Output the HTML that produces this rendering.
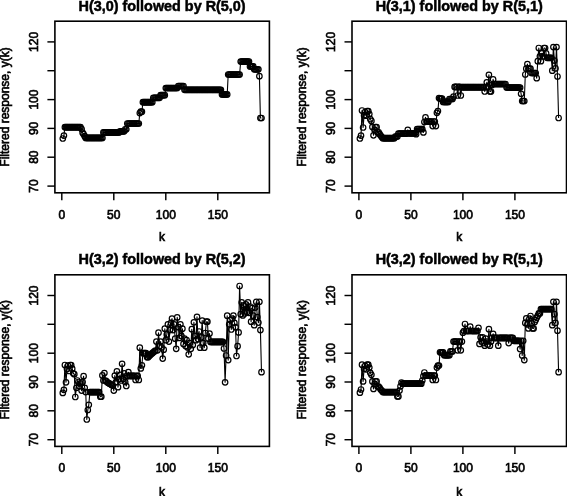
<!DOCTYPE html>
<html><head><meta charset="utf-8"><title>Filtered responses</title>
<style>html,body{margin:0;padding:0;background:#fff}svg{display:block}</style></head>
<body>
<svg width="567" height="496" viewBox="0 0 567 496">
<style>text{font-family:"Liberation Sans",sans-serif;fill:#000;stroke:#000;stroke-width:0.65px}.t{font-size:14.4px;font-weight:bold;stroke-width:0.5px}.a{font-size:12px}.l{font-size:12px}</style>
<rect width="567" height="496" fill="#fff"/>
<g transform="translate(0,0)">
<polyline fill="none" stroke="#000" stroke-width="1.1" stroke-linejoin="round" points="62.8,138.5 63.9,135.6 64.9,127.2 66.0,127.2 67.0,127.2 68.0,127.2 69.1,127.2 70.1,127.2 71.2,127.2 72.2,127.2 73.2,127.2 74.3,127.2 75.3,127.2 76.4,127.2 77.4,127.2 78.4,127.2 79.5,127.2 80.5,127.2 81.6,129.0 82.6,132.7 83.6,134.2 84.7,136.2 85.7,137.9 86.8,137.9 87.8,137.9 88.8,137.9 89.9,137.9 90.9,137.9 92.0,137.9 93.0,137.9 94.0,137.9 95.1,137.9 96.1,137.9 97.2,137.9 98.2,137.9 99.2,137.9 100.3,137.9 101.3,137.9 102.4,137.9 103.4,132.4 104.4,132.4 105.5,132.4 106.5,132.4 107.6,132.4 108.6,132.4 109.6,132.4 110.7,132.4 111.7,132.4 112.8,132.4 113.8,132.4 114.8,132.4 115.9,132.4 116.9,132.4 118.0,132.4 119.0,132.4 120.0,131.3 121.1,131.3 122.1,131.3 123.2,131.3 124.2,131.3 125.2,129.3 126.3,129.3 127.3,123.5 128.4,123.5 129.4,123.5 130.4,123.5 131.5,123.5 132.5,123.5 133.6,123.5 134.6,123.5 135.6,123.5 136.7,123.5 137.7,123.5 138.8,123.5 139.8,113.1 140.8,111.7 141.9,111.7 142.9,102.2 144.0,102.2 145.0,102.2 146.0,102.2 147.1,102.2 148.1,102.2 149.2,102.2 150.2,102.2 151.2,102.2 152.3,102.2 153.3,97.8 154.4,97.8 155.4,97.8 156.4,97.8 157.5,97.8 158.5,97.8 159.6,97.8 160.6,95.2 161.6,95.2 162.7,95.2 163.7,95.2 164.8,95.2 165.8,88.0 166.8,88.0 167.9,88.0 168.9,88.0 170.0,88.0 171.0,88.0 172.0,88.0 173.1,88.0 174.1,88.0 175.2,88.0 176.2,88.0 177.2,88.0 178.3,86.0 179.3,86.0 180.4,86.0 181.4,86.0 182.4,86.0 183.5,86.0 184.5,89.8 185.6,89.8 186.6,89.8 187.6,89.8 188.7,89.8 189.7,89.8 190.8,89.8 191.8,89.8 192.8,89.8 193.9,89.8 194.9,89.8 196.0,89.8 197.0,89.8 198.0,89.8 199.1,89.8 200.1,89.8 201.2,89.8 202.2,89.8 203.2,89.8 204.3,89.8 205.3,89.8 206.4,89.8 207.4,89.8 208.4,89.8 209.5,89.8 210.5,89.8 211.6,89.8 212.6,89.8 213.6,89.8 214.7,89.8 215.7,89.8 216.8,89.8 217.8,89.8 218.8,89.8 219.9,89.8 220.9,89.8 222.0,94.4 223.0,94.4 224.0,94.4 225.1,94.4 226.1,94.4 227.2,94.4 228.2,74.5 229.2,74.5 230.3,74.5 231.3,74.5 232.4,74.5 233.4,74.5 234.4,74.5 235.5,74.5 236.5,74.5 237.6,74.5 238.6,74.5 239.6,74.5 240.7,61.5 241.7,61.5 242.8,61.5 243.8,61.5 244.8,61.5 245.9,61.5 246.9,61.5 248.0,61.5 249.0,61.5 250.0,66.4 251.1,66.4 252.1,66.4 253.2,66.4 254.2,69.3 255.2,69.3 256.3,69.3 257.3,69.3 258.4,69.3 259.4,76.2 260.4,118.0 261.5,118.0"/>
<g fill="none" stroke="#000" stroke-width="1.2"><circle cx="62.8" cy="138.5" r="2.75"/><circle cx="63.9" cy="135.6" r="2.75"/><circle cx="64.9" cy="127.2" r="2.75"/><circle cx="66.0" cy="127.2" r="2.75"/><circle cx="67.0" cy="127.2" r="2.75"/><circle cx="68.0" cy="127.2" r="2.75"/><circle cx="69.1" cy="127.2" r="2.75"/><circle cx="70.1" cy="127.2" r="2.75"/><circle cx="71.2" cy="127.2" r="2.75"/><circle cx="72.2" cy="127.2" r="2.75"/><circle cx="73.2" cy="127.2" r="2.75"/><circle cx="74.3" cy="127.2" r="2.75"/><circle cx="75.3" cy="127.2" r="2.75"/><circle cx="76.4" cy="127.2" r="2.75"/><circle cx="77.4" cy="127.2" r="2.75"/><circle cx="78.4" cy="127.2" r="2.75"/><circle cx="79.5" cy="127.2" r="2.75"/><circle cx="80.5" cy="127.2" r="2.75"/><circle cx="81.6" cy="129.0" r="2.75"/><circle cx="82.6" cy="132.7" r="2.75"/><circle cx="83.6" cy="134.2" r="2.75"/><circle cx="84.7" cy="136.2" r="2.75"/><circle cx="85.7" cy="137.9" r="2.75"/><circle cx="86.8" cy="137.9" r="2.75"/><circle cx="87.8" cy="137.9" r="2.75"/><circle cx="88.8" cy="137.9" r="2.75"/><circle cx="89.9" cy="137.9" r="2.75"/><circle cx="90.9" cy="137.9" r="2.75"/><circle cx="92.0" cy="137.9" r="2.75"/><circle cx="93.0" cy="137.9" r="2.75"/><circle cx="94.0" cy="137.9" r="2.75"/><circle cx="95.1" cy="137.9" r="2.75"/><circle cx="96.1" cy="137.9" r="2.75"/><circle cx="97.2" cy="137.9" r="2.75"/><circle cx="98.2" cy="137.9" r="2.75"/><circle cx="99.2" cy="137.9" r="2.75"/><circle cx="100.3" cy="137.9" r="2.75"/><circle cx="101.3" cy="137.9" r="2.75"/><circle cx="102.4" cy="137.9" r="2.75"/><circle cx="103.4" cy="132.4" r="2.75"/><circle cx="104.4" cy="132.4" r="2.75"/><circle cx="105.5" cy="132.4" r="2.75"/><circle cx="106.5" cy="132.4" r="2.75"/><circle cx="107.6" cy="132.4" r="2.75"/><circle cx="108.6" cy="132.4" r="2.75"/><circle cx="109.6" cy="132.4" r="2.75"/><circle cx="110.7" cy="132.4" r="2.75"/><circle cx="111.7" cy="132.4" r="2.75"/><circle cx="112.8" cy="132.4" r="2.75"/><circle cx="113.8" cy="132.4" r="2.75"/><circle cx="114.8" cy="132.4" r="2.75"/><circle cx="115.9" cy="132.4" r="2.75"/><circle cx="116.9" cy="132.4" r="2.75"/><circle cx="118.0" cy="132.4" r="2.75"/><circle cx="119.0" cy="132.4" r="2.75"/><circle cx="120.0" cy="131.3" r="2.75"/><circle cx="121.1" cy="131.3" r="2.75"/><circle cx="122.1" cy="131.3" r="2.75"/><circle cx="123.2" cy="131.3" r="2.75"/><circle cx="124.2" cy="131.3" r="2.75"/><circle cx="125.2" cy="129.3" r="2.75"/><circle cx="126.3" cy="129.3" r="2.75"/><circle cx="127.3" cy="123.5" r="2.75"/><circle cx="128.4" cy="123.5" r="2.75"/><circle cx="129.4" cy="123.5" r="2.75"/><circle cx="130.4" cy="123.5" r="2.75"/><circle cx="131.5" cy="123.5" r="2.75"/><circle cx="132.5" cy="123.5" r="2.75"/><circle cx="133.6" cy="123.5" r="2.75"/><circle cx="134.6" cy="123.5" r="2.75"/><circle cx="135.6" cy="123.5" r="2.75"/><circle cx="136.7" cy="123.5" r="2.75"/><circle cx="137.7" cy="123.5" r="2.75"/><circle cx="138.8" cy="123.5" r="2.75"/><circle cx="139.8" cy="113.1" r="2.75"/><circle cx="140.8" cy="111.7" r="2.75"/><circle cx="141.9" cy="111.7" r="2.75"/><circle cx="142.9" cy="102.2" r="2.75"/><circle cx="144.0" cy="102.2" r="2.75"/><circle cx="145.0" cy="102.2" r="2.75"/><circle cx="146.0" cy="102.2" r="2.75"/><circle cx="147.1" cy="102.2" r="2.75"/><circle cx="148.1" cy="102.2" r="2.75"/><circle cx="149.2" cy="102.2" r="2.75"/><circle cx="150.2" cy="102.2" r="2.75"/><circle cx="151.2" cy="102.2" r="2.75"/><circle cx="152.3" cy="102.2" r="2.75"/><circle cx="153.3" cy="97.8" r="2.75"/><circle cx="154.4" cy="97.8" r="2.75"/><circle cx="155.4" cy="97.8" r="2.75"/><circle cx="156.4" cy="97.8" r="2.75"/><circle cx="157.5" cy="97.8" r="2.75"/><circle cx="158.5" cy="97.8" r="2.75"/><circle cx="159.6" cy="97.8" r="2.75"/><circle cx="160.6" cy="95.2" r="2.75"/><circle cx="161.6" cy="95.2" r="2.75"/><circle cx="162.7" cy="95.2" r="2.75"/><circle cx="163.7" cy="95.2" r="2.75"/><circle cx="164.8" cy="95.2" r="2.75"/><circle cx="165.8" cy="88.0" r="2.75"/><circle cx="166.8" cy="88.0" r="2.75"/><circle cx="167.9" cy="88.0" r="2.75"/><circle cx="168.9" cy="88.0" r="2.75"/><circle cx="170.0" cy="88.0" r="2.75"/><circle cx="171.0" cy="88.0" r="2.75"/><circle cx="172.0" cy="88.0" r="2.75"/><circle cx="173.1" cy="88.0" r="2.75"/><circle cx="174.1" cy="88.0" r="2.75"/><circle cx="175.2" cy="88.0" r="2.75"/><circle cx="176.2" cy="88.0" r="2.75"/><circle cx="177.2" cy="88.0" r="2.75"/><circle cx="178.3" cy="86.0" r="2.75"/><circle cx="179.3" cy="86.0" r="2.75"/><circle cx="180.4" cy="86.0" r="2.75"/><circle cx="181.4" cy="86.0" r="2.75"/><circle cx="182.4" cy="86.0" r="2.75"/><circle cx="183.5" cy="86.0" r="2.75"/><circle cx="184.5" cy="89.8" r="2.75"/><circle cx="185.6" cy="89.8" r="2.75"/><circle cx="186.6" cy="89.8" r="2.75"/><circle cx="187.6" cy="89.8" r="2.75"/><circle cx="188.7" cy="89.8" r="2.75"/><circle cx="189.7" cy="89.8" r="2.75"/><circle cx="190.8" cy="89.8" r="2.75"/><circle cx="191.8" cy="89.8" r="2.75"/><circle cx="192.8" cy="89.8" r="2.75"/><circle cx="193.9" cy="89.8" r="2.75"/><circle cx="194.9" cy="89.8" r="2.75"/><circle cx="196.0" cy="89.8" r="2.75"/><circle cx="197.0" cy="89.8" r="2.75"/><circle cx="198.0" cy="89.8" r="2.75"/><circle cx="199.1" cy="89.8" r="2.75"/><circle cx="200.1" cy="89.8" r="2.75"/><circle cx="201.2" cy="89.8" r="2.75"/><circle cx="202.2" cy="89.8" r="2.75"/><circle cx="203.2" cy="89.8" r="2.75"/><circle cx="204.3" cy="89.8" r="2.75"/><circle cx="205.3" cy="89.8" r="2.75"/><circle cx="206.4" cy="89.8" r="2.75"/><circle cx="207.4" cy="89.8" r="2.75"/><circle cx="208.4" cy="89.8" r="2.75"/><circle cx="209.5" cy="89.8" r="2.75"/><circle cx="210.5" cy="89.8" r="2.75"/><circle cx="211.6" cy="89.8" r="2.75"/><circle cx="212.6" cy="89.8" r="2.75"/><circle cx="213.6" cy="89.8" r="2.75"/><circle cx="214.7" cy="89.8" r="2.75"/><circle cx="215.7" cy="89.8" r="2.75"/><circle cx="216.8" cy="89.8" r="2.75"/><circle cx="217.8" cy="89.8" r="2.75"/><circle cx="218.8" cy="89.8" r="2.75"/><circle cx="219.9" cy="89.8" r="2.75"/><circle cx="220.9" cy="89.8" r="2.75"/><circle cx="222.0" cy="94.4" r="2.75"/><circle cx="223.0" cy="94.4" r="2.75"/><circle cx="224.0" cy="94.4" r="2.75"/><circle cx="225.1" cy="94.4" r="2.75"/><circle cx="226.1" cy="94.4" r="2.75"/><circle cx="227.2" cy="94.4" r="2.75"/><circle cx="228.2" cy="74.5" r="2.75"/><circle cx="229.2" cy="74.5" r="2.75"/><circle cx="230.3" cy="74.5" r="2.75"/><circle cx="231.3" cy="74.5" r="2.75"/><circle cx="232.4" cy="74.5" r="2.75"/><circle cx="233.4" cy="74.5" r="2.75"/><circle cx="234.4" cy="74.5" r="2.75"/><circle cx="235.5" cy="74.5" r="2.75"/><circle cx="236.5" cy="74.5" r="2.75"/><circle cx="237.6" cy="74.5" r="2.75"/><circle cx="238.6" cy="74.5" r="2.75"/><circle cx="239.6" cy="74.5" r="2.75"/><circle cx="240.7" cy="61.5" r="2.75"/><circle cx="241.7" cy="61.5" r="2.75"/><circle cx="242.8" cy="61.5" r="2.75"/><circle cx="243.8" cy="61.5" r="2.75"/><circle cx="244.8" cy="61.5" r="2.75"/><circle cx="245.9" cy="61.5" r="2.75"/><circle cx="246.9" cy="61.5" r="2.75"/><circle cx="248.0" cy="61.5" r="2.75"/><circle cx="249.0" cy="61.5" r="2.75"/><circle cx="250.0" cy="66.4" r="2.75"/><circle cx="251.1" cy="66.4" r="2.75"/><circle cx="252.1" cy="66.4" r="2.75"/><circle cx="253.2" cy="66.4" r="2.75"/><circle cx="254.2" cy="69.3" r="2.75"/><circle cx="255.2" cy="69.3" r="2.75"/><circle cx="256.3" cy="69.3" r="2.75"/><circle cx="257.3" cy="69.3" r="2.75"/><circle cx="258.4" cy="69.3" r="2.75"/><circle cx="259.4" cy="76.2" r="2.75"/><circle cx="260.4" cy="118.0" r="2.75"/><circle cx="261.5" cy="118.0" r="2.75"/></g>
<rect x="54.9" y="21.2" width="214.5" height="171.6" fill="none" stroke="#000" stroke-width="1.6"/>
<line x1="61.8" y1="192.8" x2="61.8" y2="200.3" stroke="#000" stroke-width="1.45"/>
<text class="a" x="61.8" y="218.7" text-anchor="middle">0</text>
<line x1="113.8" y1="192.8" x2="113.8" y2="200.3" stroke="#000" stroke-width="1.45"/>
<text class="a" x="113.8" y="218.7" text-anchor="middle">50</text>
<line x1="165.8" y1="192.8" x2="165.8" y2="200.3" stroke="#000" stroke-width="1.45"/>
<text class="a" x="165.8" y="218.7" text-anchor="middle">100</text>
<line x1="217.8" y1="192.8" x2="217.8" y2="200.3" stroke="#000" stroke-width="1.45"/>
<text class="a" x="217.8" y="218.7" text-anchor="middle">150</text>
<line x1="54.9" y1="186.1" x2="47.4" y2="186.1" stroke="#000" stroke-width="1.45"/>
<text class="a" transform="translate(37.5,186.1) rotate(-90)" text-anchor="middle">70</text>
<line x1="54.9" y1="157.2" x2="47.4" y2="157.2" stroke="#000" stroke-width="1.45"/>
<text class="a" transform="translate(37.5,157.2) rotate(-90)" text-anchor="middle">80</text>
<line x1="54.9" y1="128.4" x2="47.4" y2="128.4" stroke="#000" stroke-width="1.45"/>
<text class="a" transform="translate(37.5,128.4) rotate(-90)" text-anchor="middle">90</text>
<line x1="54.9" y1="99.6" x2="47.4" y2="99.6" stroke="#000" stroke-width="1.45"/>
<text class="a" transform="translate(37.5,99.6) rotate(-90)" text-anchor="middle">100</text>
<line x1="54.9" y1="70.7" x2="47.4" y2="70.7" stroke="#000" stroke-width="1.45"/>
<line x1="54.9" y1="41.9" x2="47.4" y2="41.9" stroke="#000" stroke-width="1.45"/>
<text class="a" transform="translate(37.5,41.9) rotate(-90)" text-anchor="middle">120</text>
<text class="t" x="162.1" y="10.5" text-anchor="middle">H(3,0) followed by R(5,0)</text>
<text class="l" x="162.1" y="241.0" text-anchor="middle">k</text>
<text class="l" transform="translate(8.8,107.0) rotate(-90)" text-anchor="middle">Filtered response, y(k)</text>
</g>
<g transform="translate(297.1,0)">
<polyline fill="none" stroke="#000" stroke-width="1.1" stroke-linejoin="round" points="62.8,138.5 63.9,135.6 64.9,110.5 66.0,127.5 67.0,115.4 68.0,112.2 69.1,115.7 70.1,111.1 71.2,111.1 72.2,114.0 73.2,119.2 74.3,120.9 75.3,126.9 76.4,135.3 77.4,129.8 78.4,127.2 79.5,127.2 80.5,132.4 81.6,132.4 82.6,134.2 83.6,135.6 84.7,137.0 85.7,138.2 86.8,138.2 87.8,138.2 88.8,138.2 89.9,138.2 90.9,138.2 92.0,138.2 93.0,138.2 94.0,138.2 95.1,138.2 96.1,138.2 97.2,138.2 98.2,136.5 99.2,136.5 100.3,136.5 101.3,133.6 102.4,133.6 103.4,133.6 104.4,133.6 105.5,133.6 106.5,133.6 107.6,133.6 108.6,133.6 109.6,133.6 110.7,129.8 111.7,133.3 112.8,133.3 113.8,133.3 114.8,133.3 115.9,133.3 116.9,133.3 118.0,133.3 119.0,134.2 120.0,129.0 121.1,129.0 122.1,129.0 123.2,129.0 124.2,129.0 125.2,129.0 126.3,132.4 127.3,122.0 128.4,117.4 129.4,121.5 130.4,121.5 131.5,121.5 132.5,121.5 133.6,121.5 134.6,121.5 135.6,126.1 136.7,121.5 137.7,121.5 138.8,126.1 139.8,112.8 140.8,111.1 141.9,98.1 142.9,98.7 144.0,98.7 145.0,98.7 146.0,101.9 147.1,101.9 148.1,101.9 149.2,101.9 150.2,101.9 151.2,101.9 152.3,99.0 153.3,99.0 154.4,99.0 155.4,99.0 156.4,96.7 157.5,86.9 158.5,86.9 159.6,86.9 160.6,95.5 161.6,86.9 162.7,86.9 163.7,95.5 164.8,87.2 165.8,87.2 166.8,87.2 167.9,87.2 168.9,87.2 170.0,87.2 171.0,87.2 172.0,87.2 173.1,87.2 174.1,87.2 175.2,87.2 176.2,87.2 177.2,87.2 178.3,87.2 179.3,87.2 180.4,87.2 181.4,87.2 182.4,87.2 183.5,87.2 184.5,87.2 185.6,87.2 186.6,87.2 187.6,91.5 188.7,87.2 189.7,82.3 190.8,86.6 191.8,74.8 192.8,91.5 193.9,91.5 194.9,85.1 196.0,79.4 197.0,84.0 198.0,84.0 199.1,84.0 200.1,84.0 201.2,84.0 202.2,84.0 203.2,84.0 204.3,84.0 205.3,84.0 206.4,84.0 207.4,84.0 208.4,84.0 209.5,87.5 210.5,87.5 211.6,87.5 212.6,87.5 213.6,87.5 214.7,87.5 215.7,87.5 216.8,87.5 217.8,87.5 218.8,87.5 219.9,87.5 220.9,87.5 222.0,87.5 223.0,87.5 224.0,93.8 225.1,101.0 226.1,101.0 227.2,101.0 228.2,74.5 229.2,68.7 230.3,64.1 231.3,68.7 232.4,68.7 233.4,68.7 234.4,73.0 235.5,73.0 236.5,73.0 237.6,73.0 238.6,73.0 239.6,78.2 240.7,61.2 241.7,48.0 242.8,56.3 243.8,61.2 244.8,53.4 245.9,56.3 246.9,48.0 248.0,48.0 249.0,53.4 250.0,57.8 251.1,57.8 252.1,57.8 253.2,57.8 254.2,57.8 255.2,70.7 256.3,47.1 257.3,60.6 258.4,68.4 259.4,47.1 260.4,76.5 261.5,118.0"/>
<g fill="none" stroke="#000" stroke-width="1.2"><circle cx="62.8" cy="138.5" r="2.75"/><circle cx="63.9" cy="135.6" r="2.75"/><circle cx="64.9" cy="110.5" r="2.75"/><circle cx="66.0" cy="127.5" r="2.75"/><circle cx="67.0" cy="115.4" r="2.75"/><circle cx="68.0" cy="112.2" r="2.75"/><circle cx="69.1" cy="115.7" r="2.75"/><circle cx="70.1" cy="111.1" r="2.75"/><circle cx="71.2" cy="111.1" r="2.75"/><circle cx="72.2" cy="114.0" r="2.75"/><circle cx="73.2" cy="119.2" r="2.75"/><circle cx="74.3" cy="120.9" r="2.75"/><circle cx="75.3" cy="126.9" r="2.75"/><circle cx="76.4" cy="135.3" r="2.75"/><circle cx="77.4" cy="129.8" r="2.75"/><circle cx="78.4" cy="127.2" r="2.75"/><circle cx="79.5" cy="127.2" r="2.75"/><circle cx="80.5" cy="132.4" r="2.75"/><circle cx="81.6" cy="132.4" r="2.75"/><circle cx="82.6" cy="134.2" r="2.75"/><circle cx="83.6" cy="135.6" r="2.75"/><circle cx="84.7" cy="137.0" r="2.75"/><circle cx="85.7" cy="138.2" r="2.75"/><circle cx="86.8" cy="138.2" r="2.75"/><circle cx="87.8" cy="138.2" r="2.75"/><circle cx="88.8" cy="138.2" r="2.75"/><circle cx="89.9" cy="138.2" r="2.75"/><circle cx="90.9" cy="138.2" r="2.75"/><circle cx="92.0" cy="138.2" r="2.75"/><circle cx="93.0" cy="138.2" r="2.75"/><circle cx="94.0" cy="138.2" r="2.75"/><circle cx="95.1" cy="138.2" r="2.75"/><circle cx="96.1" cy="138.2" r="2.75"/><circle cx="97.2" cy="138.2" r="2.75"/><circle cx="98.2" cy="136.5" r="2.75"/><circle cx="99.2" cy="136.5" r="2.75"/><circle cx="100.3" cy="136.5" r="2.75"/><circle cx="101.3" cy="133.6" r="2.75"/><circle cx="102.4" cy="133.6" r="2.75"/><circle cx="103.4" cy="133.6" r="2.75"/><circle cx="104.4" cy="133.6" r="2.75"/><circle cx="105.5" cy="133.6" r="2.75"/><circle cx="106.5" cy="133.6" r="2.75"/><circle cx="107.6" cy="133.6" r="2.75"/><circle cx="108.6" cy="133.6" r="2.75"/><circle cx="109.6" cy="133.6" r="2.75"/><circle cx="110.7" cy="129.8" r="2.75"/><circle cx="111.7" cy="133.3" r="2.75"/><circle cx="112.8" cy="133.3" r="2.75"/><circle cx="113.8" cy="133.3" r="2.75"/><circle cx="114.8" cy="133.3" r="2.75"/><circle cx="115.9" cy="133.3" r="2.75"/><circle cx="116.9" cy="133.3" r="2.75"/><circle cx="118.0" cy="133.3" r="2.75"/><circle cx="119.0" cy="134.2" r="2.75"/><circle cx="120.0" cy="129.0" r="2.75"/><circle cx="121.1" cy="129.0" r="2.75"/><circle cx="122.1" cy="129.0" r="2.75"/><circle cx="123.2" cy="129.0" r="2.75"/><circle cx="124.2" cy="129.0" r="2.75"/><circle cx="125.2" cy="129.0" r="2.75"/><circle cx="126.3" cy="132.4" r="2.75"/><circle cx="127.3" cy="122.0" r="2.75"/><circle cx="128.4" cy="117.4" r="2.75"/><circle cx="129.4" cy="121.5" r="2.75"/><circle cx="130.4" cy="121.5" r="2.75"/><circle cx="131.5" cy="121.5" r="2.75"/><circle cx="132.5" cy="121.5" r="2.75"/><circle cx="133.6" cy="121.5" r="2.75"/><circle cx="134.6" cy="121.5" r="2.75"/><circle cx="135.6" cy="126.1" r="2.75"/><circle cx="136.7" cy="121.5" r="2.75"/><circle cx="137.7" cy="121.5" r="2.75"/><circle cx="138.8" cy="126.1" r="2.75"/><circle cx="139.8" cy="112.8" r="2.75"/><circle cx="140.8" cy="111.1" r="2.75"/><circle cx="141.9" cy="98.1" r="2.75"/><circle cx="142.9" cy="98.7" r="2.75"/><circle cx="144.0" cy="98.7" r="2.75"/><circle cx="145.0" cy="98.7" r="2.75"/><circle cx="146.0" cy="101.9" r="2.75"/><circle cx="147.1" cy="101.9" r="2.75"/><circle cx="148.1" cy="101.9" r="2.75"/><circle cx="149.2" cy="101.9" r="2.75"/><circle cx="150.2" cy="101.9" r="2.75"/><circle cx="151.2" cy="101.9" r="2.75"/><circle cx="152.3" cy="99.0" r="2.75"/><circle cx="153.3" cy="99.0" r="2.75"/><circle cx="154.4" cy="99.0" r="2.75"/><circle cx="155.4" cy="99.0" r="2.75"/><circle cx="156.4" cy="96.7" r="2.75"/><circle cx="157.5" cy="86.9" r="2.75"/><circle cx="158.5" cy="86.9" r="2.75"/><circle cx="159.6" cy="86.9" r="2.75"/><circle cx="160.6" cy="95.5" r="2.75"/><circle cx="161.6" cy="86.9" r="2.75"/><circle cx="162.7" cy="86.9" r="2.75"/><circle cx="163.7" cy="95.5" r="2.75"/><circle cx="164.8" cy="87.2" r="2.75"/><circle cx="165.8" cy="87.2" r="2.75"/><circle cx="166.8" cy="87.2" r="2.75"/><circle cx="167.9" cy="87.2" r="2.75"/><circle cx="168.9" cy="87.2" r="2.75"/><circle cx="170.0" cy="87.2" r="2.75"/><circle cx="171.0" cy="87.2" r="2.75"/><circle cx="172.0" cy="87.2" r="2.75"/><circle cx="173.1" cy="87.2" r="2.75"/><circle cx="174.1" cy="87.2" r="2.75"/><circle cx="175.2" cy="87.2" r="2.75"/><circle cx="176.2" cy="87.2" r="2.75"/><circle cx="177.2" cy="87.2" r="2.75"/><circle cx="178.3" cy="87.2" r="2.75"/><circle cx="179.3" cy="87.2" r="2.75"/><circle cx="180.4" cy="87.2" r="2.75"/><circle cx="181.4" cy="87.2" r="2.75"/><circle cx="182.4" cy="87.2" r="2.75"/><circle cx="183.5" cy="87.2" r="2.75"/><circle cx="184.5" cy="87.2" r="2.75"/><circle cx="185.6" cy="87.2" r="2.75"/><circle cx="186.6" cy="87.2" r="2.75"/><circle cx="187.6" cy="91.5" r="2.75"/><circle cx="188.7" cy="87.2" r="2.75"/><circle cx="189.7" cy="82.3" r="2.75"/><circle cx="190.8" cy="86.6" r="2.75"/><circle cx="191.8" cy="74.8" r="2.75"/><circle cx="192.8" cy="91.5" r="2.75"/><circle cx="193.9" cy="91.5" r="2.75"/><circle cx="194.9" cy="85.1" r="2.75"/><circle cx="196.0" cy="79.4" r="2.75"/><circle cx="197.0" cy="84.0" r="2.75"/><circle cx="198.0" cy="84.0" r="2.75"/><circle cx="199.1" cy="84.0" r="2.75"/><circle cx="200.1" cy="84.0" r="2.75"/><circle cx="201.2" cy="84.0" r="2.75"/><circle cx="202.2" cy="84.0" r="2.75"/><circle cx="203.2" cy="84.0" r="2.75"/><circle cx="204.3" cy="84.0" r="2.75"/><circle cx="205.3" cy="84.0" r="2.75"/><circle cx="206.4" cy="84.0" r="2.75"/><circle cx="207.4" cy="84.0" r="2.75"/><circle cx="208.4" cy="84.0" r="2.75"/><circle cx="209.5" cy="87.5" r="2.75"/><circle cx="210.5" cy="87.5" r="2.75"/><circle cx="211.6" cy="87.5" r="2.75"/><circle cx="212.6" cy="87.5" r="2.75"/><circle cx="213.6" cy="87.5" r="2.75"/><circle cx="214.7" cy="87.5" r="2.75"/><circle cx="215.7" cy="87.5" r="2.75"/><circle cx="216.8" cy="87.5" r="2.75"/><circle cx="217.8" cy="87.5" r="2.75"/><circle cx="218.8" cy="87.5" r="2.75"/><circle cx="219.9" cy="87.5" r="2.75"/><circle cx="220.9" cy="87.5" r="2.75"/><circle cx="222.0" cy="87.5" r="2.75"/><circle cx="223.0" cy="87.5" r="2.75"/><circle cx="224.0" cy="93.8" r="2.75"/><circle cx="225.1" cy="101.0" r="2.75"/><circle cx="226.1" cy="101.0" r="2.75"/><circle cx="227.2" cy="101.0" r="2.75"/><circle cx="228.2" cy="74.5" r="2.75"/><circle cx="229.2" cy="68.7" r="2.75"/><circle cx="230.3" cy="64.1" r="2.75"/><circle cx="231.3" cy="68.7" r="2.75"/><circle cx="232.4" cy="68.7" r="2.75"/><circle cx="233.4" cy="68.7" r="2.75"/><circle cx="234.4" cy="73.0" r="2.75"/><circle cx="235.5" cy="73.0" r="2.75"/><circle cx="236.5" cy="73.0" r="2.75"/><circle cx="237.6" cy="73.0" r="2.75"/><circle cx="238.6" cy="73.0" r="2.75"/><circle cx="239.6" cy="78.2" r="2.75"/><circle cx="240.7" cy="61.2" r="2.75"/><circle cx="241.7" cy="48.0" r="2.75"/><circle cx="242.8" cy="56.3" r="2.75"/><circle cx="243.8" cy="61.2" r="2.75"/><circle cx="244.8" cy="53.4" r="2.75"/><circle cx="245.9" cy="56.3" r="2.75"/><circle cx="246.9" cy="48.0" r="2.75"/><circle cx="248.0" cy="48.0" r="2.75"/><circle cx="249.0" cy="53.4" r="2.75"/><circle cx="250.0" cy="57.8" r="2.75"/><circle cx="251.1" cy="57.8" r="2.75"/><circle cx="252.1" cy="57.8" r="2.75"/><circle cx="253.2" cy="57.8" r="2.75"/><circle cx="254.2" cy="57.8" r="2.75"/><circle cx="255.2" cy="70.7" r="2.75"/><circle cx="256.3" cy="47.1" r="2.75"/><circle cx="257.3" cy="60.6" r="2.75"/><circle cx="258.4" cy="68.4" r="2.75"/><circle cx="259.4" cy="47.1" r="2.75"/><circle cx="260.4" cy="76.5" r="2.75"/><circle cx="261.5" cy="118.0" r="2.75"/></g>
<rect x="54.9" y="21.2" width="214.5" height="171.6" fill="none" stroke="#000" stroke-width="1.6"/>
<line x1="61.8" y1="192.8" x2="61.8" y2="200.3" stroke="#000" stroke-width="1.45"/>
<text class="a" x="61.8" y="218.7" text-anchor="middle">0</text>
<line x1="113.8" y1="192.8" x2="113.8" y2="200.3" stroke="#000" stroke-width="1.45"/>
<text class="a" x="113.8" y="218.7" text-anchor="middle">50</text>
<line x1="165.8" y1="192.8" x2="165.8" y2="200.3" stroke="#000" stroke-width="1.45"/>
<text class="a" x="165.8" y="218.7" text-anchor="middle">100</text>
<line x1="217.8" y1="192.8" x2="217.8" y2="200.3" stroke="#000" stroke-width="1.45"/>
<text class="a" x="217.8" y="218.7" text-anchor="middle">150</text>
<line x1="54.9" y1="186.1" x2="47.4" y2="186.1" stroke="#000" stroke-width="1.45"/>
<text class="a" transform="translate(37.5,186.1) rotate(-90)" text-anchor="middle">70</text>
<line x1="54.9" y1="157.2" x2="47.4" y2="157.2" stroke="#000" stroke-width="1.45"/>
<text class="a" transform="translate(37.5,157.2) rotate(-90)" text-anchor="middle">80</text>
<line x1="54.9" y1="128.4" x2="47.4" y2="128.4" stroke="#000" stroke-width="1.45"/>
<text class="a" transform="translate(37.5,128.4) rotate(-90)" text-anchor="middle">90</text>
<line x1="54.9" y1="99.6" x2="47.4" y2="99.6" stroke="#000" stroke-width="1.45"/>
<text class="a" transform="translate(37.5,99.6) rotate(-90)" text-anchor="middle">100</text>
<line x1="54.9" y1="70.7" x2="47.4" y2="70.7" stroke="#000" stroke-width="1.45"/>
<line x1="54.9" y1="41.9" x2="47.4" y2="41.9" stroke="#000" stroke-width="1.45"/>
<text class="a" transform="translate(37.5,41.9) rotate(-90)" text-anchor="middle">120</text>
<text class="t" x="162.1" y="10.5" text-anchor="middle">H(3,1) followed by R(5,1)</text>
<text class="l" x="162.1" y="241.0" text-anchor="middle">k</text>
<text class="l" transform="translate(8.8,107.0) rotate(-90)" text-anchor="middle">Filtered response, y(k)</text>
</g>
<g transform="translate(0,253.6)">
<polyline fill="none" stroke="#000" stroke-width="1.1" stroke-linejoin="round" points="62.8,139.3 63.9,136.2 64.9,111.4 66.0,128.7 67.0,115.4 68.0,112.0 69.1,117.4 70.1,111.4 71.2,111.4 72.2,115.1 73.2,119.7 74.3,120.6 75.3,143.4 76.4,134.2 77.4,126.9 78.4,128.4 79.5,132.7 80.5,129.8 81.6,137.0 82.6,128.4 83.6,122.6 84.7,134.2 85.7,138.5 86.8,165.9 87.8,156.4 88.8,151.2 89.9,138.5 90.9,138.5 92.0,138.5 93.0,138.5 94.0,138.5 95.1,138.5 96.1,138.5 97.2,138.5 98.2,138.5 99.2,138.5 100.3,143.1 101.3,143.1 102.4,121.8 103.4,126.9 104.4,119.5 105.5,126.9 106.5,127.8 107.6,129.0 108.6,129.5 109.6,130.1 110.7,130.7 111.7,131.3 112.8,131.8 113.8,137.0 114.8,122.0 115.9,128.4 116.9,117.7 118.0,133.6 119.0,125.5 120.0,121.2 121.1,126.9 122.1,110.2 123.2,125.5 124.2,119.7 125.2,128.4 126.3,132.4 127.3,122.6 128.4,118.6 129.4,122.3 130.4,122.3 131.5,122.3 132.5,122.3 133.6,122.3 134.6,122.3 135.6,126.4 136.7,122.3 137.7,122.3 138.8,126.4 139.8,94.1 140.8,114.8 141.9,111.7 142.9,99.6 144.0,99.6 145.0,99.6 146.0,99.6 147.1,103.6 148.1,103.6 149.2,102.4 150.2,101.5 151.2,100.5 152.3,99.6 153.3,98.7 154.4,97.8 155.4,97.0 156.4,88.0 157.5,96.7 158.5,79.1 159.6,92.4 160.6,88.0 161.6,93.8 162.7,105.0 163.7,96.1 164.8,75.1 165.8,86.6 166.8,80.8 167.9,70.7 168.9,88.0 170.0,76.5 171.0,69.3 172.0,65.0 173.1,76.5 174.1,70.7 175.2,85.1 176.2,95.2 177.2,63.8 178.3,73.6 179.3,84.3 180.4,70.7 181.4,82.3 182.4,75.1 183.5,90.3 184.5,85.1 185.6,92.4 186.6,86.6 187.6,93.8 188.7,100.7 189.7,89.5 190.8,95.2 191.8,75.6 192.8,91.5 193.9,68.7 194.9,82.3 196.0,86.6 197.0,63.2 198.0,85.4 199.1,77.9 200.1,94.1 201.2,83.7 202.2,67.0 203.2,89.5 204.3,94.1 205.3,79.4 206.4,68.1 207.4,68.1 208.4,85.1 209.5,80.0 210.5,88.3 211.6,88.3 212.6,88.3 213.6,88.3 214.7,88.3 215.7,88.3 216.8,88.3 217.8,88.3 218.8,88.3 219.9,88.3 220.9,88.3 222.0,88.3 223.0,88.3 224.0,94.9 225.1,128.7 226.1,101.9 227.2,62.1 228.2,106.5 229.2,70.7 230.3,66.4 231.3,75.9 232.4,65.0 233.4,62.1 234.4,69.3 235.5,73.6 236.5,102.4 237.6,92.6 238.6,78.8 239.6,32.4 240.7,60.6 241.7,48.8 242.8,61.8 243.8,51.7 244.8,59.8 245.9,50.8 246.9,58.6 248.0,48.8 249.0,59.2 250.0,52.9 251.1,68.1 252.1,54.6 253.2,62.1 254.2,71.6 255.2,54.0 256.3,48.2 257.3,63.5 258.4,69.0 259.4,48.2 260.4,76.5 261.5,118.6"/>
<g fill="none" stroke="#000" stroke-width="1.2"><circle cx="62.8" cy="139.3" r="2.75"/><circle cx="63.9" cy="136.2" r="2.75"/><circle cx="64.9" cy="111.4" r="2.75"/><circle cx="66.0" cy="128.7" r="2.75"/><circle cx="67.0" cy="115.4" r="2.75"/><circle cx="68.0" cy="112.0" r="2.75"/><circle cx="69.1" cy="117.4" r="2.75"/><circle cx="70.1" cy="111.4" r="2.75"/><circle cx="71.2" cy="111.4" r="2.75"/><circle cx="72.2" cy="115.1" r="2.75"/><circle cx="73.2" cy="119.7" r="2.75"/><circle cx="74.3" cy="120.6" r="2.75"/><circle cx="75.3" cy="143.4" r="2.75"/><circle cx="76.4" cy="134.2" r="2.75"/><circle cx="77.4" cy="126.9" r="2.75"/><circle cx="78.4" cy="128.4" r="2.75"/><circle cx="79.5" cy="132.7" r="2.75"/><circle cx="80.5" cy="129.8" r="2.75"/><circle cx="81.6" cy="137.0" r="2.75"/><circle cx="82.6" cy="128.4" r="2.75"/><circle cx="83.6" cy="122.6" r="2.75"/><circle cx="84.7" cy="134.2" r="2.75"/><circle cx="85.7" cy="138.5" r="2.75"/><circle cx="86.8" cy="165.9" r="2.75"/><circle cx="87.8" cy="156.4" r="2.75"/><circle cx="88.8" cy="151.2" r="2.75"/><circle cx="89.9" cy="138.5" r="2.75"/><circle cx="90.9" cy="138.5" r="2.75"/><circle cx="92.0" cy="138.5" r="2.75"/><circle cx="93.0" cy="138.5" r="2.75"/><circle cx="94.0" cy="138.5" r="2.75"/><circle cx="95.1" cy="138.5" r="2.75"/><circle cx="96.1" cy="138.5" r="2.75"/><circle cx="97.2" cy="138.5" r="2.75"/><circle cx="98.2" cy="138.5" r="2.75"/><circle cx="99.2" cy="138.5" r="2.75"/><circle cx="100.3" cy="143.1" r="2.75"/><circle cx="101.3" cy="143.1" r="2.75"/><circle cx="102.4" cy="121.8" r="2.75"/><circle cx="103.4" cy="126.9" r="2.75"/><circle cx="104.4" cy="119.5" r="2.75"/><circle cx="105.5" cy="126.9" r="2.75"/><circle cx="106.5" cy="127.8" r="2.75"/><circle cx="107.6" cy="129.0" r="2.75"/><circle cx="108.6" cy="129.5" r="2.75"/><circle cx="109.6" cy="130.1" r="2.75"/><circle cx="110.7" cy="130.7" r="2.75"/><circle cx="111.7" cy="131.3" r="2.75"/><circle cx="112.8" cy="131.8" r="2.75"/><circle cx="113.8" cy="137.0" r="2.75"/><circle cx="114.8" cy="122.0" r="2.75"/><circle cx="115.9" cy="128.4" r="2.75"/><circle cx="116.9" cy="117.7" r="2.75"/><circle cx="118.0" cy="133.6" r="2.75"/><circle cx="119.0" cy="125.5" r="2.75"/><circle cx="120.0" cy="121.2" r="2.75"/><circle cx="121.1" cy="126.9" r="2.75"/><circle cx="122.1" cy="110.2" r="2.75"/><circle cx="123.2" cy="125.5" r="2.75"/><circle cx="124.2" cy="119.7" r="2.75"/><circle cx="125.2" cy="128.4" r="2.75"/><circle cx="126.3" cy="132.4" r="2.75"/><circle cx="127.3" cy="122.6" r="2.75"/><circle cx="128.4" cy="118.6" r="2.75"/><circle cx="129.4" cy="122.3" r="2.75"/><circle cx="130.4" cy="122.3" r="2.75"/><circle cx="131.5" cy="122.3" r="2.75"/><circle cx="132.5" cy="122.3" r="2.75"/><circle cx="133.6" cy="122.3" r="2.75"/><circle cx="134.6" cy="122.3" r="2.75"/><circle cx="135.6" cy="126.4" r="2.75"/><circle cx="136.7" cy="122.3" r="2.75"/><circle cx="137.7" cy="122.3" r="2.75"/><circle cx="138.8" cy="126.4" r="2.75"/><circle cx="139.8" cy="94.1" r="2.75"/><circle cx="140.8" cy="114.8" r="2.75"/><circle cx="141.9" cy="111.7" r="2.75"/><circle cx="142.9" cy="99.6" r="2.75"/><circle cx="144.0" cy="99.6" r="2.75"/><circle cx="145.0" cy="99.6" r="2.75"/><circle cx="146.0" cy="99.6" r="2.75"/><circle cx="147.1" cy="103.6" r="2.75"/><circle cx="148.1" cy="103.6" r="2.75"/><circle cx="149.2" cy="102.4" r="2.75"/><circle cx="150.2" cy="101.5" r="2.75"/><circle cx="151.2" cy="100.5" r="2.75"/><circle cx="152.3" cy="99.6" r="2.75"/><circle cx="153.3" cy="98.7" r="2.75"/><circle cx="154.4" cy="97.8" r="2.75"/><circle cx="155.4" cy="97.0" r="2.75"/><circle cx="156.4" cy="88.0" r="2.75"/><circle cx="157.5" cy="96.7" r="2.75"/><circle cx="158.5" cy="79.1" r="2.75"/><circle cx="159.6" cy="92.4" r="2.75"/><circle cx="160.6" cy="88.0" r="2.75"/><circle cx="161.6" cy="93.8" r="2.75"/><circle cx="162.7" cy="105.0" r="2.75"/><circle cx="163.7" cy="96.1" r="2.75"/><circle cx="164.8" cy="75.1" r="2.75"/><circle cx="165.8" cy="86.6" r="2.75"/><circle cx="166.8" cy="80.8" r="2.75"/><circle cx="167.9" cy="70.7" r="2.75"/><circle cx="168.9" cy="88.0" r="2.75"/><circle cx="170.0" cy="76.5" r="2.75"/><circle cx="171.0" cy="69.3" r="2.75"/><circle cx="172.0" cy="65.0" r="2.75"/><circle cx="173.1" cy="76.5" r="2.75"/><circle cx="174.1" cy="70.7" r="2.75"/><circle cx="175.2" cy="85.1" r="2.75"/><circle cx="176.2" cy="95.2" r="2.75"/><circle cx="177.2" cy="63.8" r="2.75"/><circle cx="178.3" cy="73.6" r="2.75"/><circle cx="179.3" cy="84.3" r="2.75"/><circle cx="180.4" cy="70.7" r="2.75"/><circle cx="181.4" cy="82.3" r="2.75"/><circle cx="182.4" cy="75.1" r="2.75"/><circle cx="183.5" cy="90.3" r="2.75"/><circle cx="184.5" cy="85.1" r="2.75"/><circle cx="185.6" cy="92.4" r="2.75"/><circle cx="186.6" cy="86.6" r="2.75"/><circle cx="187.6" cy="93.8" r="2.75"/><circle cx="188.7" cy="100.7" r="2.75"/><circle cx="189.7" cy="89.5" r="2.75"/><circle cx="190.8" cy="95.2" r="2.75"/><circle cx="191.8" cy="75.6" r="2.75"/><circle cx="192.8" cy="91.5" r="2.75"/><circle cx="193.9" cy="68.7" r="2.75"/><circle cx="194.9" cy="82.3" r="2.75"/><circle cx="196.0" cy="86.6" r="2.75"/><circle cx="197.0" cy="63.2" r="2.75"/><circle cx="198.0" cy="85.4" r="2.75"/><circle cx="199.1" cy="77.9" r="2.75"/><circle cx="200.1" cy="94.1" r="2.75"/><circle cx="201.2" cy="83.7" r="2.75"/><circle cx="202.2" cy="67.0" r="2.75"/><circle cx="203.2" cy="89.5" r="2.75"/><circle cx="204.3" cy="94.1" r="2.75"/><circle cx="205.3" cy="79.4" r="2.75"/><circle cx="206.4" cy="68.1" r="2.75"/><circle cx="207.4" cy="68.1" r="2.75"/><circle cx="208.4" cy="85.1" r="2.75"/><circle cx="209.5" cy="80.0" r="2.75"/><circle cx="210.5" cy="88.3" r="2.75"/><circle cx="211.6" cy="88.3" r="2.75"/><circle cx="212.6" cy="88.3" r="2.75"/><circle cx="213.6" cy="88.3" r="2.75"/><circle cx="214.7" cy="88.3" r="2.75"/><circle cx="215.7" cy="88.3" r="2.75"/><circle cx="216.8" cy="88.3" r="2.75"/><circle cx="217.8" cy="88.3" r="2.75"/><circle cx="218.8" cy="88.3" r="2.75"/><circle cx="219.9" cy="88.3" r="2.75"/><circle cx="220.9" cy="88.3" r="2.75"/><circle cx="222.0" cy="88.3" r="2.75"/><circle cx="223.0" cy="88.3" r="2.75"/><circle cx="224.0" cy="94.9" r="2.75"/><circle cx="225.1" cy="128.7" r="2.75"/><circle cx="226.1" cy="101.9" r="2.75"/><circle cx="227.2" cy="62.1" r="2.75"/><circle cx="228.2" cy="106.5" r="2.75"/><circle cx="229.2" cy="70.7" r="2.75"/><circle cx="230.3" cy="66.4" r="2.75"/><circle cx="231.3" cy="75.9" r="2.75"/><circle cx="232.4" cy="65.0" r="2.75"/><circle cx="233.4" cy="62.1" r="2.75"/><circle cx="234.4" cy="69.3" r="2.75"/><circle cx="235.5" cy="73.6" r="2.75"/><circle cx="236.5" cy="102.4" r="2.75"/><circle cx="237.6" cy="92.6" r="2.75"/><circle cx="238.6" cy="78.8" r="2.75"/><circle cx="239.6" cy="32.4" r="2.75"/><circle cx="240.7" cy="60.6" r="2.75"/><circle cx="241.7" cy="48.8" r="2.75"/><circle cx="242.8" cy="61.8" r="2.75"/><circle cx="243.8" cy="51.7" r="2.75"/><circle cx="244.8" cy="59.8" r="2.75"/><circle cx="245.9" cy="50.8" r="2.75"/><circle cx="246.9" cy="58.6" r="2.75"/><circle cx="248.0" cy="48.8" r="2.75"/><circle cx="249.0" cy="59.2" r="2.75"/><circle cx="250.0" cy="52.9" r="2.75"/><circle cx="251.1" cy="68.1" r="2.75"/><circle cx="252.1" cy="54.6" r="2.75"/><circle cx="253.2" cy="62.1" r="2.75"/><circle cx="254.2" cy="71.6" r="2.75"/><circle cx="255.2" cy="54.0" r="2.75"/><circle cx="256.3" cy="48.2" r="2.75"/><circle cx="257.3" cy="63.5" r="2.75"/><circle cx="258.4" cy="69.0" r="2.75"/><circle cx="259.4" cy="48.2" r="2.75"/><circle cx="260.4" cy="76.5" r="2.75"/><circle cx="261.5" cy="118.6" r="2.75"/></g>
<rect x="54.9" y="21.2" width="214.5" height="171.6" fill="none" stroke="#000" stroke-width="1.6"/>
<line x1="61.8" y1="192.8" x2="61.8" y2="200.3" stroke="#000" stroke-width="1.45"/>
<text class="a" x="61.8" y="218.7" text-anchor="middle">0</text>
<line x1="113.8" y1="192.8" x2="113.8" y2="200.3" stroke="#000" stroke-width="1.45"/>
<text class="a" x="113.8" y="218.7" text-anchor="middle">50</text>
<line x1="165.8" y1="192.8" x2="165.8" y2="200.3" stroke="#000" stroke-width="1.45"/>
<text class="a" x="165.8" y="218.7" text-anchor="middle">100</text>
<line x1="217.8" y1="192.8" x2="217.8" y2="200.3" stroke="#000" stroke-width="1.45"/>
<text class="a" x="217.8" y="218.7" text-anchor="middle">150</text>
<line x1="54.9" y1="186.1" x2="47.4" y2="186.1" stroke="#000" stroke-width="1.45"/>
<text class="a" transform="translate(37.5,186.1) rotate(-90)" text-anchor="middle">70</text>
<line x1="54.9" y1="157.2" x2="47.4" y2="157.2" stroke="#000" stroke-width="1.45"/>
<text class="a" transform="translate(37.5,157.2) rotate(-90)" text-anchor="middle">80</text>
<line x1="54.9" y1="128.4" x2="47.4" y2="128.4" stroke="#000" stroke-width="1.45"/>
<text class="a" transform="translate(37.5,128.4) rotate(-90)" text-anchor="middle">90</text>
<line x1="54.9" y1="99.6" x2="47.4" y2="99.6" stroke="#000" stroke-width="1.45"/>
<text class="a" transform="translate(37.5,99.6) rotate(-90)" text-anchor="middle">100</text>
<line x1="54.9" y1="70.7" x2="47.4" y2="70.7" stroke="#000" stroke-width="1.45"/>
<line x1="54.9" y1="41.9" x2="47.4" y2="41.9" stroke="#000" stroke-width="1.45"/>
<text class="a" transform="translate(37.5,41.9) rotate(-90)" text-anchor="middle">120</text>
<text class="t" x="162.1" y="10.0" text-anchor="middle">H(3,2) followed by R(5,2)</text>
<text class="l" x="162.1" y="242.2" text-anchor="middle">k</text>
<text class="l" transform="translate(8.8,106.2) rotate(-90)" text-anchor="middle">Filtered response, y(k)</text>
</g>
<g transform="translate(297.1,253.6)">
<polyline fill="none" stroke="#000" stroke-width="1.1" stroke-linejoin="round" points="62.8,139.1 63.9,135.9 64.9,111.1 66.0,127.8 67.0,115.4 68.0,112.2 69.1,115.7 70.1,111.1 71.2,111.1 72.2,114.0 73.2,119.2 74.3,121.2 75.3,127.8 76.4,135.3 77.4,130.4 78.4,127.8 79.5,127.8 80.5,133.0 81.6,133.0 82.6,134.2 83.6,135.9 84.7,137.0 85.7,138.5 86.8,138.5 87.8,138.5 88.8,138.5 89.9,138.5 90.9,138.5 92.0,138.5 93.0,138.5 94.0,138.5 95.1,138.5 96.1,138.5 97.2,138.5 98.2,138.5 99.2,138.5 100.3,142.8 101.3,142.8 102.4,137.0 103.4,132.7 104.4,129.0 105.5,130.1 106.5,130.1 107.6,130.1 108.6,130.1 109.6,130.1 110.7,130.1 111.7,130.1 112.8,130.1 113.8,130.1 114.8,130.1 115.9,130.1 116.9,130.1 118.0,130.1 119.0,130.1 120.0,130.1 121.1,130.1 122.1,130.1 123.2,130.1 124.2,130.1 125.2,126.9 126.3,122.6 127.3,118.9 128.4,122.0 129.4,122.0 130.4,122.0 131.5,122.0 132.5,122.0 133.6,122.0 134.6,122.0 135.6,126.4 136.7,122.0 137.7,122.0 138.8,126.4 139.8,114.0 140.8,112.0 141.9,112.0 142.9,98.7 144.0,98.7 145.0,98.7 146.0,98.7 147.1,101.6 148.1,101.6 149.2,101.6 150.2,101.6 151.2,101.6 152.3,101.6 153.3,97.8 154.4,97.8 155.4,97.8 156.4,88.0 157.5,88.0 158.5,88.0 159.6,88.0 160.6,96.7 161.6,88.0 162.7,88.0 163.7,96.7 164.8,88.0 165.8,79.1 166.8,77.4 167.9,70.4 168.9,77.4 170.0,77.4 171.0,77.4 172.0,77.4 173.1,73.0 174.1,77.4 175.2,77.4 176.2,77.4 177.2,77.4 178.3,77.4 179.3,77.4 180.4,77.4 181.4,74.2 182.4,90.3 183.5,83.7 184.5,88.0 185.6,83.7 186.6,89.5 187.6,92.1 188.7,85.1 189.7,88.0 190.8,90.9 191.8,75.6 192.8,92.1 193.9,88.0 194.9,84.3 196.0,80.2 197.0,84.3 198.0,84.3 199.1,84.3 200.1,84.3 201.2,92.1 202.2,84.3 203.2,84.3 204.3,84.3 205.3,84.3 206.4,84.3 207.4,84.3 208.4,84.3 209.5,84.3 210.5,84.3 211.6,89.5 212.6,84.3 213.6,84.3 214.7,84.3 215.7,84.3 216.8,87.2 217.8,87.2 218.8,87.2 219.9,87.2 220.9,87.2 222.0,87.2 223.0,95.5 224.0,87.2 225.1,101.9 226.1,87.2 227.2,106.5 228.2,69.3 229.2,64.7 230.3,70.7 231.3,74.8 232.4,65.0 233.4,62.4 234.4,69.3 235.5,74.8 236.5,74.8 237.6,68.4 238.6,66.4 239.6,64.1 240.7,62.1 241.7,59.8 242.8,59.8 243.8,55.5 244.8,55.5 245.9,55.5 246.9,55.5 248.0,55.5 249.0,55.5 250.0,55.5 251.1,55.5 252.1,55.5 253.2,55.5 254.2,55.5 255.2,71.6 256.3,48.2 257.3,60.6 258.4,69.3 259.4,48.2 260.4,77.1 261.5,118.6"/>
<g fill="none" stroke="#000" stroke-width="1.2"><circle cx="62.8" cy="139.1" r="2.75"/><circle cx="63.9" cy="135.9" r="2.75"/><circle cx="64.9" cy="111.1" r="2.75"/><circle cx="66.0" cy="127.8" r="2.75"/><circle cx="67.0" cy="115.4" r="2.75"/><circle cx="68.0" cy="112.2" r="2.75"/><circle cx="69.1" cy="115.7" r="2.75"/><circle cx="70.1" cy="111.1" r="2.75"/><circle cx="71.2" cy="111.1" r="2.75"/><circle cx="72.2" cy="114.0" r="2.75"/><circle cx="73.2" cy="119.2" r="2.75"/><circle cx="74.3" cy="121.2" r="2.75"/><circle cx="75.3" cy="127.8" r="2.75"/><circle cx="76.4" cy="135.3" r="2.75"/><circle cx="77.4" cy="130.4" r="2.75"/><circle cx="78.4" cy="127.8" r="2.75"/><circle cx="79.5" cy="127.8" r="2.75"/><circle cx="80.5" cy="133.0" r="2.75"/><circle cx="81.6" cy="133.0" r="2.75"/><circle cx="82.6" cy="134.2" r="2.75"/><circle cx="83.6" cy="135.9" r="2.75"/><circle cx="84.7" cy="137.0" r="2.75"/><circle cx="85.7" cy="138.5" r="2.75"/><circle cx="86.8" cy="138.5" r="2.75"/><circle cx="87.8" cy="138.5" r="2.75"/><circle cx="88.8" cy="138.5" r="2.75"/><circle cx="89.9" cy="138.5" r="2.75"/><circle cx="90.9" cy="138.5" r="2.75"/><circle cx="92.0" cy="138.5" r="2.75"/><circle cx="93.0" cy="138.5" r="2.75"/><circle cx="94.0" cy="138.5" r="2.75"/><circle cx="95.1" cy="138.5" r="2.75"/><circle cx="96.1" cy="138.5" r="2.75"/><circle cx="97.2" cy="138.5" r="2.75"/><circle cx="98.2" cy="138.5" r="2.75"/><circle cx="99.2" cy="138.5" r="2.75"/><circle cx="100.3" cy="142.8" r="2.75"/><circle cx="101.3" cy="142.8" r="2.75"/><circle cx="102.4" cy="137.0" r="2.75"/><circle cx="103.4" cy="132.7" r="2.75"/><circle cx="104.4" cy="129.0" r="2.75"/><circle cx="105.5" cy="130.1" r="2.75"/><circle cx="106.5" cy="130.1" r="2.75"/><circle cx="107.6" cy="130.1" r="2.75"/><circle cx="108.6" cy="130.1" r="2.75"/><circle cx="109.6" cy="130.1" r="2.75"/><circle cx="110.7" cy="130.1" r="2.75"/><circle cx="111.7" cy="130.1" r="2.75"/><circle cx="112.8" cy="130.1" r="2.75"/><circle cx="113.8" cy="130.1" r="2.75"/><circle cx="114.8" cy="130.1" r="2.75"/><circle cx="115.9" cy="130.1" r="2.75"/><circle cx="116.9" cy="130.1" r="2.75"/><circle cx="118.0" cy="130.1" r="2.75"/><circle cx="119.0" cy="130.1" r="2.75"/><circle cx="120.0" cy="130.1" r="2.75"/><circle cx="121.1" cy="130.1" r="2.75"/><circle cx="122.1" cy="130.1" r="2.75"/><circle cx="123.2" cy="130.1" r="2.75"/><circle cx="124.2" cy="130.1" r="2.75"/><circle cx="125.2" cy="126.9" r="2.75"/><circle cx="126.3" cy="122.6" r="2.75"/><circle cx="127.3" cy="118.9" r="2.75"/><circle cx="128.4" cy="122.0" r="2.75"/><circle cx="129.4" cy="122.0" r="2.75"/><circle cx="130.4" cy="122.0" r="2.75"/><circle cx="131.5" cy="122.0" r="2.75"/><circle cx="132.5" cy="122.0" r="2.75"/><circle cx="133.6" cy="122.0" r="2.75"/><circle cx="134.6" cy="122.0" r="2.75"/><circle cx="135.6" cy="126.4" r="2.75"/><circle cx="136.7" cy="122.0" r="2.75"/><circle cx="137.7" cy="122.0" r="2.75"/><circle cx="138.8" cy="126.4" r="2.75"/><circle cx="139.8" cy="114.0" r="2.75"/><circle cx="140.8" cy="112.0" r="2.75"/><circle cx="141.9" cy="112.0" r="2.75"/><circle cx="142.9" cy="98.7" r="2.75"/><circle cx="144.0" cy="98.7" r="2.75"/><circle cx="145.0" cy="98.7" r="2.75"/><circle cx="146.0" cy="98.7" r="2.75"/><circle cx="147.1" cy="101.6" r="2.75"/><circle cx="148.1" cy="101.6" r="2.75"/><circle cx="149.2" cy="101.6" r="2.75"/><circle cx="150.2" cy="101.6" r="2.75"/><circle cx="151.2" cy="101.6" r="2.75"/><circle cx="152.3" cy="101.6" r="2.75"/><circle cx="153.3" cy="97.8" r="2.75"/><circle cx="154.4" cy="97.8" r="2.75"/><circle cx="155.4" cy="97.8" r="2.75"/><circle cx="156.4" cy="88.0" r="2.75"/><circle cx="157.5" cy="88.0" r="2.75"/><circle cx="158.5" cy="88.0" r="2.75"/><circle cx="159.6" cy="88.0" r="2.75"/><circle cx="160.6" cy="96.7" r="2.75"/><circle cx="161.6" cy="88.0" r="2.75"/><circle cx="162.7" cy="88.0" r="2.75"/><circle cx="163.7" cy="96.7" r="2.75"/><circle cx="164.8" cy="88.0" r="2.75"/><circle cx="165.8" cy="79.1" r="2.75"/><circle cx="166.8" cy="77.4" r="2.75"/><circle cx="167.9" cy="70.4" r="2.75"/><circle cx="168.9" cy="77.4" r="2.75"/><circle cx="170.0" cy="77.4" r="2.75"/><circle cx="171.0" cy="77.4" r="2.75"/><circle cx="172.0" cy="77.4" r="2.75"/><circle cx="173.1" cy="73.0" r="2.75"/><circle cx="174.1" cy="77.4" r="2.75"/><circle cx="175.2" cy="77.4" r="2.75"/><circle cx="176.2" cy="77.4" r="2.75"/><circle cx="177.2" cy="77.4" r="2.75"/><circle cx="178.3" cy="77.4" r="2.75"/><circle cx="179.3" cy="77.4" r="2.75"/><circle cx="180.4" cy="77.4" r="2.75"/><circle cx="181.4" cy="74.2" r="2.75"/><circle cx="182.4" cy="90.3" r="2.75"/><circle cx="183.5" cy="83.7" r="2.75"/><circle cx="184.5" cy="88.0" r="2.75"/><circle cx="185.6" cy="83.7" r="2.75"/><circle cx="186.6" cy="89.5" r="2.75"/><circle cx="187.6" cy="92.1" r="2.75"/><circle cx="188.7" cy="85.1" r="2.75"/><circle cx="189.7" cy="88.0" r="2.75"/><circle cx="190.8" cy="90.9" r="2.75"/><circle cx="191.8" cy="75.6" r="2.75"/><circle cx="192.8" cy="92.1" r="2.75"/><circle cx="193.9" cy="88.0" r="2.75"/><circle cx="194.9" cy="84.3" r="2.75"/><circle cx="196.0" cy="80.2" r="2.75"/><circle cx="197.0" cy="84.3" r="2.75"/><circle cx="198.0" cy="84.3" r="2.75"/><circle cx="199.1" cy="84.3" r="2.75"/><circle cx="200.1" cy="84.3" r="2.75"/><circle cx="201.2" cy="92.1" r="2.75"/><circle cx="202.2" cy="84.3" r="2.75"/><circle cx="203.2" cy="84.3" r="2.75"/><circle cx="204.3" cy="84.3" r="2.75"/><circle cx="205.3" cy="84.3" r="2.75"/><circle cx="206.4" cy="84.3" r="2.75"/><circle cx="207.4" cy="84.3" r="2.75"/><circle cx="208.4" cy="84.3" r="2.75"/><circle cx="209.5" cy="84.3" r="2.75"/><circle cx="210.5" cy="84.3" r="2.75"/><circle cx="211.6" cy="89.5" r="2.75"/><circle cx="212.6" cy="84.3" r="2.75"/><circle cx="213.6" cy="84.3" r="2.75"/><circle cx="214.7" cy="84.3" r="2.75"/><circle cx="215.7" cy="84.3" r="2.75"/><circle cx="216.8" cy="87.2" r="2.75"/><circle cx="217.8" cy="87.2" r="2.75"/><circle cx="218.8" cy="87.2" r="2.75"/><circle cx="219.9" cy="87.2" r="2.75"/><circle cx="220.9" cy="87.2" r="2.75"/><circle cx="222.0" cy="87.2" r="2.75"/><circle cx="223.0" cy="95.5" r="2.75"/><circle cx="224.0" cy="87.2" r="2.75"/><circle cx="225.1" cy="101.9" r="2.75"/><circle cx="226.1" cy="87.2" r="2.75"/><circle cx="227.2" cy="106.5" r="2.75"/><circle cx="228.2" cy="69.3" r="2.75"/><circle cx="229.2" cy="64.7" r="2.75"/><circle cx="230.3" cy="70.7" r="2.75"/><circle cx="231.3" cy="74.8" r="2.75"/><circle cx="232.4" cy="65.0" r="2.75"/><circle cx="233.4" cy="62.4" r="2.75"/><circle cx="234.4" cy="69.3" r="2.75"/><circle cx="235.5" cy="74.8" r="2.75"/><circle cx="236.5" cy="74.8" r="2.75"/><circle cx="237.6" cy="68.4" r="2.75"/><circle cx="238.6" cy="66.4" r="2.75"/><circle cx="239.6" cy="64.1" r="2.75"/><circle cx="240.7" cy="62.1" r="2.75"/><circle cx="241.7" cy="59.8" r="2.75"/><circle cx="242.8" cy="59.8" r="2.75"/><circle cx="243.8" cy="55.5" r="2.75"/><circle cx="244.8" cy="55.5" r="2.75"/><circle cx="245.9" cy="55.5" r="2.75"/><circle cx="246.9" cy="55.5" r="2.75"/><circle cx="248.0" cy="55.5" r="2.75"/><circle cx="249.0" cy="55.5" r="2.75"/><circle cx="250.0" cy="55.5" r="2.75"/><circle cx="251.1" cy="55.5" r="2.75"/><circle cx="252.1" cy="55.5" r="2.75"/><circle cx="253.2" cy="55.5" r="2.75"/><circle cx="254.2" cy="55.5" r="2.75"/><circle cx="255.2" cy="71.6" r="2.75"/><circle cx="256.3" cy="48.2" r="2.75"/><circle cx="257.3" cy="60.6" r="2.75"/><circle cx="258.4" cy="69.3" r="2.75"/><circle cx="259.4" cy="48.2" r="2.75"/><circle cx="260.4" cy="77.1" r="2.75"/><circle cx="261.5" cy="118.6" r="2.75"/></g>
<rect x="54.9" y="21.2" width="214.5" height="171.6" fill="none" stroke="#000" stroke-width="1.6"/>
<line x1="61.8" y1="192.8" x2="61.8" y2="200.3" stroke="#000" stroke-width="1.45"/>
<text class="a" x="61.8" y="218.7" text-anchor="middle">0</text>
<line x1="113.8" y1="192.8" x2="113.8" y2="200.3" stroke="#000" stroke-width="1.45"/>
<text class="a" x="113.8" y="218.7" text-anchor="middle">50</text>
<line x1="165.8" y1="192.8" x2="165.8" y2="200.3" stroke="#000" stroke-width="1.45"/>
<text class="a" x="165.8" y="218.7" text-anchor="middle">100</text>
<line x1="217.8" y1="192.8" x2="217.8" y2="200.3" stroke="#000" stroke-width="1.45"/>
<text class="a" x="217.8" y="218.7" text-anchor="middle">150</text>
<line x1="54.9" y1="186.1" x2="47.4" y2="186.1" stroke="#000" stroke-width="1.45"/>
<text class="a" transform="translate(37.5,186.1) rotate(-90)" text-anchor="middle">70</text>
<line x1="54.9" y1="157.2" x2="47.4" y2="157.2" stroke="#000" stroke-width="1.45"/>
<text class="a" transform="translate(37.5,157.2) rotate(-90)" text-anchor="middle">80</text>
<line x1="54.9" y1="128.4" x2="47.4" y2="128.4" stroke="#000" stroke-width="1.45"/>
<text class="a" transform="translate(37.5,128.4) rotate(-90)" text-anchor="middle">90</text>
<line x1="54.9" y1="99.6" x2="47.4" y2="99.6" stroke="#000" stroke-width="1.45"/>
<text class="a" transform="translate(37.5,99.6) rotate(-90)" text-anchor="middle">100</text>
<line x1="54.9" y1="70.7" x2="47.4" y2="70.7" stroke="#000" stroke-width="1.45"/>
<line x1="54.9" y1="41.9" x2="47.4" y2="41.9" stroke="#000" stroke-width="1.45"/>
<text class="a" transform="translate(37.5,41.9) rotate(-90)" text-anchor="middle">120</text>
<text class="t" x="162.1" y="10.0" text-anchor="middle">H(3,2) followed by R(5,1)</text>
<text class="l" x="162.1" y="242.2" text-anchor="middle">k</text>
<text class="l" transform="translate(8.8,106.2) rotate(-90)" text-anchor="middle">Filtered response, y(k)</text>
</g>
</svg>
</body></html>
